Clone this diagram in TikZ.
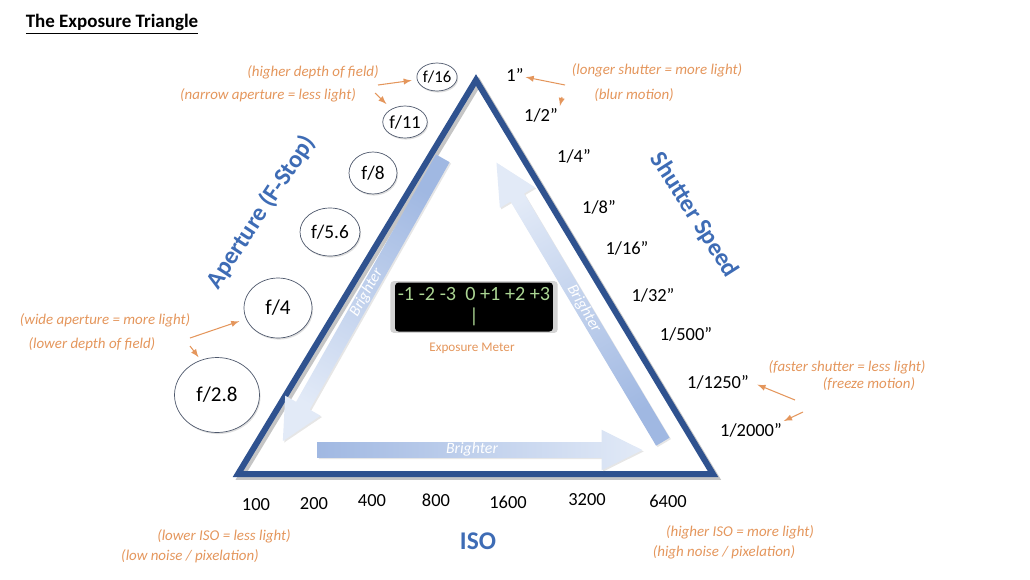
\documentclass[tikz,border=0pt]{standalone}
\usepackage{fontspec}
\setmainfont{Carlito}
\usetikzlibrary{arrows,shapes.geometric,shapes.arrows,shadows}

\definecolor{triblue}{RGB}{47,82,143}
\definecolor{labblue}{RGB}{62,108,181}
\definecolor{notes}{RGB}{228,150,92}
\definecolor{meterg}{RGB}{172,214,148}
\definecolor{rimgray}{RGB}{78,88,108}
\definecolor{arrdark}{RGB}{160,184,226}
\definecolor{arrlight}{RGB}{226,234,247}

\tikzset{
  fstop/.style={ellipse,draw=rimgray,thin,fill=white,inner sep=0pt,
    drop shadow={shadow xshift=0.6pt,shadow yshift=-0.9pt,opacity=0.25}},
  speed/.style={inner sep=1pt,font=\fontsize{10.5}{12}\selectfont},
  isonum/.style={inner sep=1pt,font=\fontsize{10.5}{12}\selectfont},
  note/.style={inner sep=1pt,text=notes,font=\fontsize{8.5}{10}\selectfont\itshape},
  notearrow/.style={-latex,draw=notes,line width=0.6pt},
  axislabel/.style={text=labblue,font=\fontsize{14}{16}\selectfont\bfseries},
  brighter/.style={single arrow,single arrow head extend=7.1pt,
    single arrow tip angle=53,single arrow head indent=0pt,
    minimum height=6.5cm,inner xsep=2pt,inner ysep=0.15pt,
    text height=6.3pt,text depth=1.9pt,text=white,
    font=\fontsize{9}{10}\selectfont\itshape,
    drop shadow={shadow xshift=0.8pt,shadow yshift=-0.8pt,opacity=0.2}},
}

\begin{document}
\begin{tikzpicture}[x=0.02cm,y=-0.02cm]
    \useasboundingbox (0,0) rectangle (1030,579);
    \node (title) at (112,24) {\fontsize{10.8}{13}\selectfont\bfseries\underline{The Exposure Triangle}};

    \coordinate (apex) at (476,80);
    \coordinate (bl) at (238,474);
    \coordinate (br) at (713,474);
    \draw[black!45,opacity=0.5,line width=3.4pt,transform canvas={shift={(1.6pt,-1.6pt)}}] (apex) -- (br) -- (bl) -- cycle;
    \draw[triblue,line width=3.4pt] (apex) -- (br) -- (bl) -- cycle;

    \node[brighter,anchor=tail,bottom color=arrdark,top color=arrlight,shading angle=-90] (isoarrow) at (317,450) {Brighter};
    \node[brighter,anchor=tail,rotate=60.5,shape border rotate=180,bottom color=arrdark,top color=arrlight,shading angle=150.5] (aparrow) at (443,158) {Brighter};
    \node[brighter,anchor=tail,rotate=-59.2,shape border rotate=180,bottom color=arrdark,top color=arrlight,shading angle=30.8] (ssarrow) at (663,442) {Brighter};

    \node[fill=black,rounded corners=2pt,minimum width=3.16cm,minimum height=0.98cm,inner sep=0pt,align=center,
      text=meterg,font=\fontsize{11.5}{12.5}\selectfont,
      drop shadow={shadow xshift=0pt,shadow yshift=0pt,shadow scale=1.06,opacity=0.35}] (meter) at (474,307) {-1 -2 -3 \ 0 +1 +2 +3\\[0pt]|};
    \node[text=notes,font=\fontsize{7.5}{9}\selectfont] (meterlabel) at (472,348) {Exposure Meter};

    \node[fstop,minimum width=0.66cm,minimum height=0.56cm,font=\fontsize{9.5}{11}\selectfont] (f16) at (437,77) {f/16};
    \node[fstop,minimum width=0.72cm,minimum height=0.64cm,font=\fontsize{10.5}{12}\selectfont] (f11) at (405,122) {f/11};
    \node[fstop,minimum width=0.96cm,minimum height=0.84cm,font=\fontsize{11}{12}\selectfont] (f8) at (373,173) {f/8};
    \node[fstop,minimum width=1.2cm,minimum height=0.96cm,font=\fontsize{11}{12}\selectfont] (f56) at (330,232) {f/5.6};
    \node[fstop,minimum width=1.36cm,minimum height=1.2cm,font=\fontsize{12}{14}\selectfont] (f4) at (278,308) {f/4};
    \node[fstop,minimum width=1.7cm,minimum height=1.5cm,font=\fontsize{12}{14}\selectfont] (f28) at (217,395) {f/2.8};

    \node[speed] (s1) at (515,75) {1”};
    \node[speed] (s2) at (541,115) {1/2”};
    \node[speed] (s4) at (574,156) {1/4”};
    \node[speed] (s8) at (599,207) {1/8”};
    \node[speed] (s16) at (627,248) {1/16”};
    \node[speed] (s32) at (653,295) {1/32”};
    \node[speed] (s500) at (686,334) {1/500”};
    \node[speed] (s1250) at (718,382) {1/1250”};
    \node[speed] (s2000) at (751,430) {1/2000”};

    \node[isonum] (i100) at (256,505) {100};
    \node[isonum] (i200) at (314,504) {200};
    \node[isonum] (i400) at (372,501) {400};
    \node[isonum] (i800) at (436,500) {800};
    \node[isonum] (i1600) at (508,502) {1600};
    \node[isonum] (i3200) at (587,500) {3200};
    \node[isonum] (i6400) at (668,501) {6400};

    \node[axislabel,rotate=56.7] (aperture) at (261,212) {Aperture (F-Stop)};
    \node[axislabel,rotate=-57.4] (shutter) at (694,215) {Shutter Speed};
    \node[axislabel,font=\fontsize{14.5}{16}\selectfont\bfseries] (iso) at (478,541) {ISO};

    \node[note] (hdof) at (313,72) {(higher depth of field)};
    \node[note] (narrow) at (268,95) {(narrow aperture = less light)};
    \node[note] (wide) at (105,320) {(wide aperture = more light)};
    \node[note] (ldof) at (92,344) {(lower depth of field)};
    \node[note] (longer) at (657,70) {(longer shutter = more light)};
    \node[note] (blur) at (634,95) {(blur motion)};
    \node[note] (faster) at (847,367) {(faster shutter = less light)};
    \node[note] (freeze) at (869,384) {(freeze motion)};
    \node[note] (lowiso) at (224,536) {(lower ISO = less light)};
    \node[note] (lownoise) at (190,556) {(low noise / pixelation)};
    \node[note] (highiso) at (740,532) {(higher ISO = more light)};
    \node[note] (highnoise) at (724,552) {(high noise / pixelation)};

    \coordinate (hdofend) at (378,85);
    \coordinate (narrowend) at (375,93);
    \coordinate (wideend) at (190,338);
    \coordinate (ldofend) at (190,346);
    \coordinate (longerend) at (565,85);
    \coordinate (blurend) at (562,97);
    \coordinate (fasterend) at (795,400);
    \coordinate (freezeend) at (803,412);
    \draw[notearrow,shorten >=3pt] (hdofend) -- (f16);
    \draw[notearrow,shorten >=4pt] (narrowend) -- (f11);
    \draw[notearrow,shorten >=4pt] (wideend) -- (f4);
    \draw[notearrow,shorten >=2pt] (ldofend) -- (f28.115);
    \draw[notearrow] (longerend) -- (s1);
    \draw[notearrow] (blurend) -- (s2.north east);
    \draw[notearrow,shorten >=4pt] (fasterend) -- (s1250.east);
    \draw[notearrow] (freezeend) -- (s2000.north east);
\end{tikzpicture}
\end{document}
